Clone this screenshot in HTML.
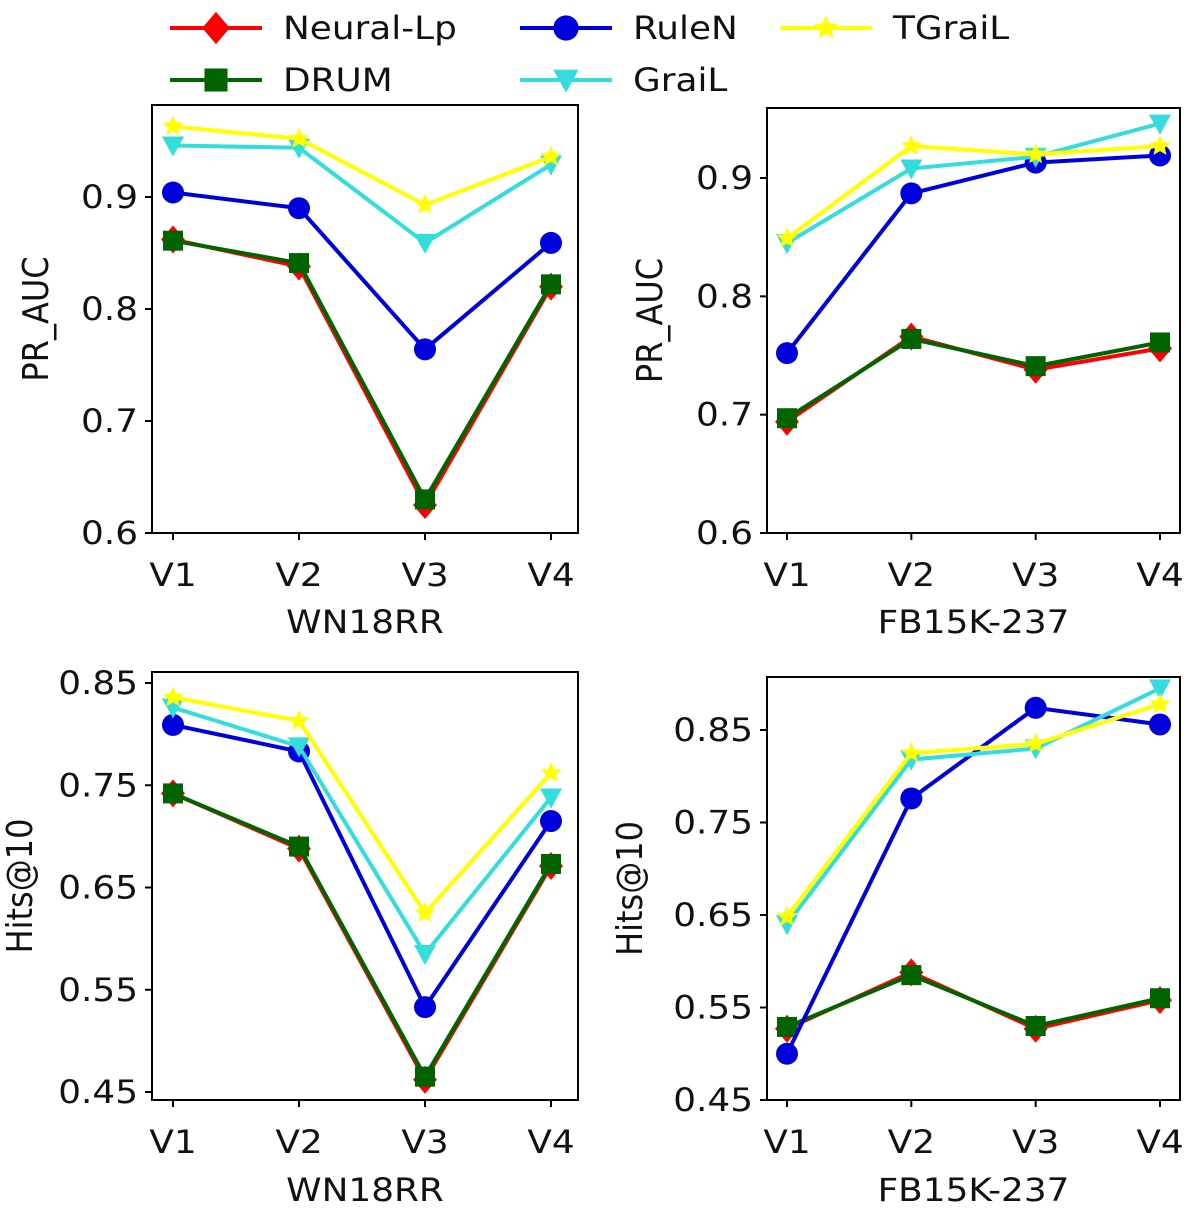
<!DOCTYPE html>
<html><head><meta charset="utf-8"><style>
body{margin:0;background:#fff;}
svg text{font-family:"DejaVu Sans","Liberation Sans",sans-serif;fill:#111;}
</style></head><body>
<svg id="fig" width="1200" height="1218" viewBox="0 0 1200 1218" xmlns="http://www.w3.org/2000/svg"></svg>
<script>
const categories=["V1","V2","V3","V4"];
const seriesNames=["Neural-Lp","DRUM","RuleN","GraiL","TGraiL"];
const tlNeural=[0.862,0.838,0.625,0.820];
const tlDrum=[0.861,0.841,0.630,0.822];
const tlRule=[0.904,0.890,0.764,0.859];
const tlGrail=[0.946,0.944,0.859,0.929];
const tlTgrail=[0.963,0.952,0.893,0.936];
const trNeural=[0.694,0.766,0.738,0.756];
const trDrum=[0.697,0.764,0.741,0.761];
const trRule=[0.752,0.887,0.913,0.919];
const trGrail=[0.845,0.908,0.918,0.946];
const trTgrail=[0.849,0.927,0.920,0.927];
const blNeural=[0.742,0.688,0.462,0.671];
const blDrum=[0.742,0.690,0.465,0.673];
const blRule=[0.809,0.783,0.533,0.715];
const blGrail=[0.826,0.788,0.585,0.738];
const blTgrail=[0.836,0.813,0.625,0.762];
const brNeural=[0.527,0.588,0.527,0.558];
const brDrum=[0.529,0.585,0.530,0.560];
const brRule=[0.500,0.776,0.874,0.856];
const brGrail=[0.640,0.818,0.830,0.895];
const brTgrail=[0.648,0.825,0.835,0.878];
const prTicks=[0.6,0.7,0.8,0.9];
const prTickLabels=["0.6","0.7","0.8","0.9"];
const hitTicks=[0.45,0.55,0.65,0.75,0.85];
const hitTickLabels=["0.45","0.55","0.65","0.75","0.85"];

const NS="http://www.w3.org/2000/svg";
const svg=document.getElementById('fig');
const SX=1.12;
function mk(tag,attrs,parent){const e=document.createElementNS(NS,tag);for(const k in attrs)e.setAttribute(k,attrs[k]);(parent||svg).appendChild(e);return e;}
function txt(parent,x,y,s,anchor,extra){
 const t=mk('text',{x:0,y:0,"text-anchor":anchor,"font-size":32,transform:`translate(${x} ${y}) ${extra||''} scale(${SX} 1)`},parent);
 t.textContent=s;return t;
}
const styles=[
 {c:"#ff0000",m:"diamond"},{c:"#006400",m:"square"},{c:"#0000dd",m:"circle"},{c:"#33dddd",m:"tri"},{c:"#ffff00",m:"star"}];
function marker(g,type,x,y,c,k){
 k=k||1;let e;
 if(type==="diamond")e=mk('polygon',{points:`${x},${y-14*k} ${x+12*k},${y} ${x},${y+14*k} ${x-12*k},${y}`,fill:c},g);
 else if(type==="square")e=mk('rect',{x:x-10*k,y:y-10*k,width:20*k,height:20*k,fill:c},g);
 else if(type==="circle")e=mk('circle',{cx:x,cy:y,r:11*k,fill:c},g);
 else if(type==="tri")e=mk('polygon',{points:`${x-11*k},${y-9*k} ${x+11*k},${y-9*k} ${x},${y+11*k}`,fill:c},g);
 else{let p=[];for(let i=0;i<10;i++){const r=(i%2?5:11)*k;const a=-Math.PI/2+i*Math.PI/5;p.push((x+r*Math.cos(a)).toFixed(1)+","+(y+r*Math.sin(a)).toFixed(1));}
  e=mk('polygon',{points:p.join(" "),fill:c},g);}
 return e;
}
function panel(id,box,xs,yDom,yPx,ticks,tickLabels,series,ylab,ylabX,xlab,xlabY){
 const g=mk('g',{});
 
 
 const ys=v=>yPx[0]+(v-yDom[0])*(yPx[1]-yPx[0])/(yDom[1]-yDom[0]);
 const xs_=i=>xs[0]+i*(xs[1]-xs[0])/(categories.length-1);
 const fr=mk('rect',{x:box[0],y:box[1],width:box[2]-box[0],height:box[3]-box[1],fill:"none",stroke:"#000","stroke-width":2},g);
 
 
 ticks.forEach((t,i)=>{const y=ys(t);
  mk('line',{x1:box[0]-7,x2:box[0],y1:y,y2:y,stroke:"#000","stroke-width":2},g);
  const tx=txt(g,box[0]-14,y+11,tickLabels[i],"end");
  
  });
 categories.forEach((c,i)=>{const x=xs_(i);
  mk('line',{x1:x,x2:x,y1:box[3],y2:box[3]+7,stroke:"#000","stroke-width":2},g);
  const tx=txt(g,x,box[3]+53,c,"middle");
  
  });
 const cy=(box[1]+box[3])/2;
 const yl=mk('text',{x:0,y:0,"text-anchor":"middle","font-size":32,transform:`translate(${ylabX} ${cy}) rotate(-90) scale(1 ${SX})`},g);yl.textContent=ylab;
 
 
 const xl=txt(g,(box[0]+box[2])/2,xlabY,xlab,"middle");
 
 
 series.forEach((vals,si)=>{const s=styles[si];
  const pts=vals.map((v,i)=>xs_(i)+","+ys(v)).join(" ");
  const pl=mk('polyline',{points:pts,fill:"none",stroke:s.c,"stroke-width":4},g);
  
  
  vals.forEach((v,i)=>{const m=marker(g,s.m,xs_(i),ys(v),s.c);
   
   });
 });
}
panel('panel-wn18rr-pr',[152,105,578,533],[173,551],[0.6,0.9],[533,197],prTicks,prTickLabels,[tlNeural,tlDrum,tlRule,tlGrail,tlTgrail],"PR_AUC",48,"WN18RR",633);
panel('panel-fb-pr',[767,108,1180,533],[787,1160],[0.6,0.9],[533,178],prTicks,prTickLabels,[trNeural,trDrum,trRule,trGrail,trTgrail],"PR_AUC",662,"FB15K-237",633);
panel('panel-wn18rr-hits',[152,672,578,1100],[173,551],[0.45,0.85],[1092,683],hitTicks,hitTickLabels,[blNeural,blDrum,blRule,blGrail,blTgrail],"Hits@10",32,"WN18RR",1201);
panel('panel-fb-hits',[767,677,1180,1100],[787,1160],[0.45,0.85],[1100,730],hitTicks,hitTickLabels,[brNeural,brDrum,brRule,brGrail,brTgrail],"Hits@10",642,"FB15K-237",1201);
const lg=mk('g',{});


const legPos=[[170,28],[170,80],[520,28],[520,80],[780,28]];
seriesNames.forEach((n,i)=>{const [x,y]=legPos[i];const s=styles[i];
 const e=mk('g',{},lg);
 
 
 mk('line',{x1:x,x2:x+92,y1:y,y2:y,stroke:s.c,"stroke-width":4},e);
 marker(e,s.m,x+46,y,s.c,1.15);
 txt(e,x+113,y+11,n,"start");});
</script>
</body></html>
